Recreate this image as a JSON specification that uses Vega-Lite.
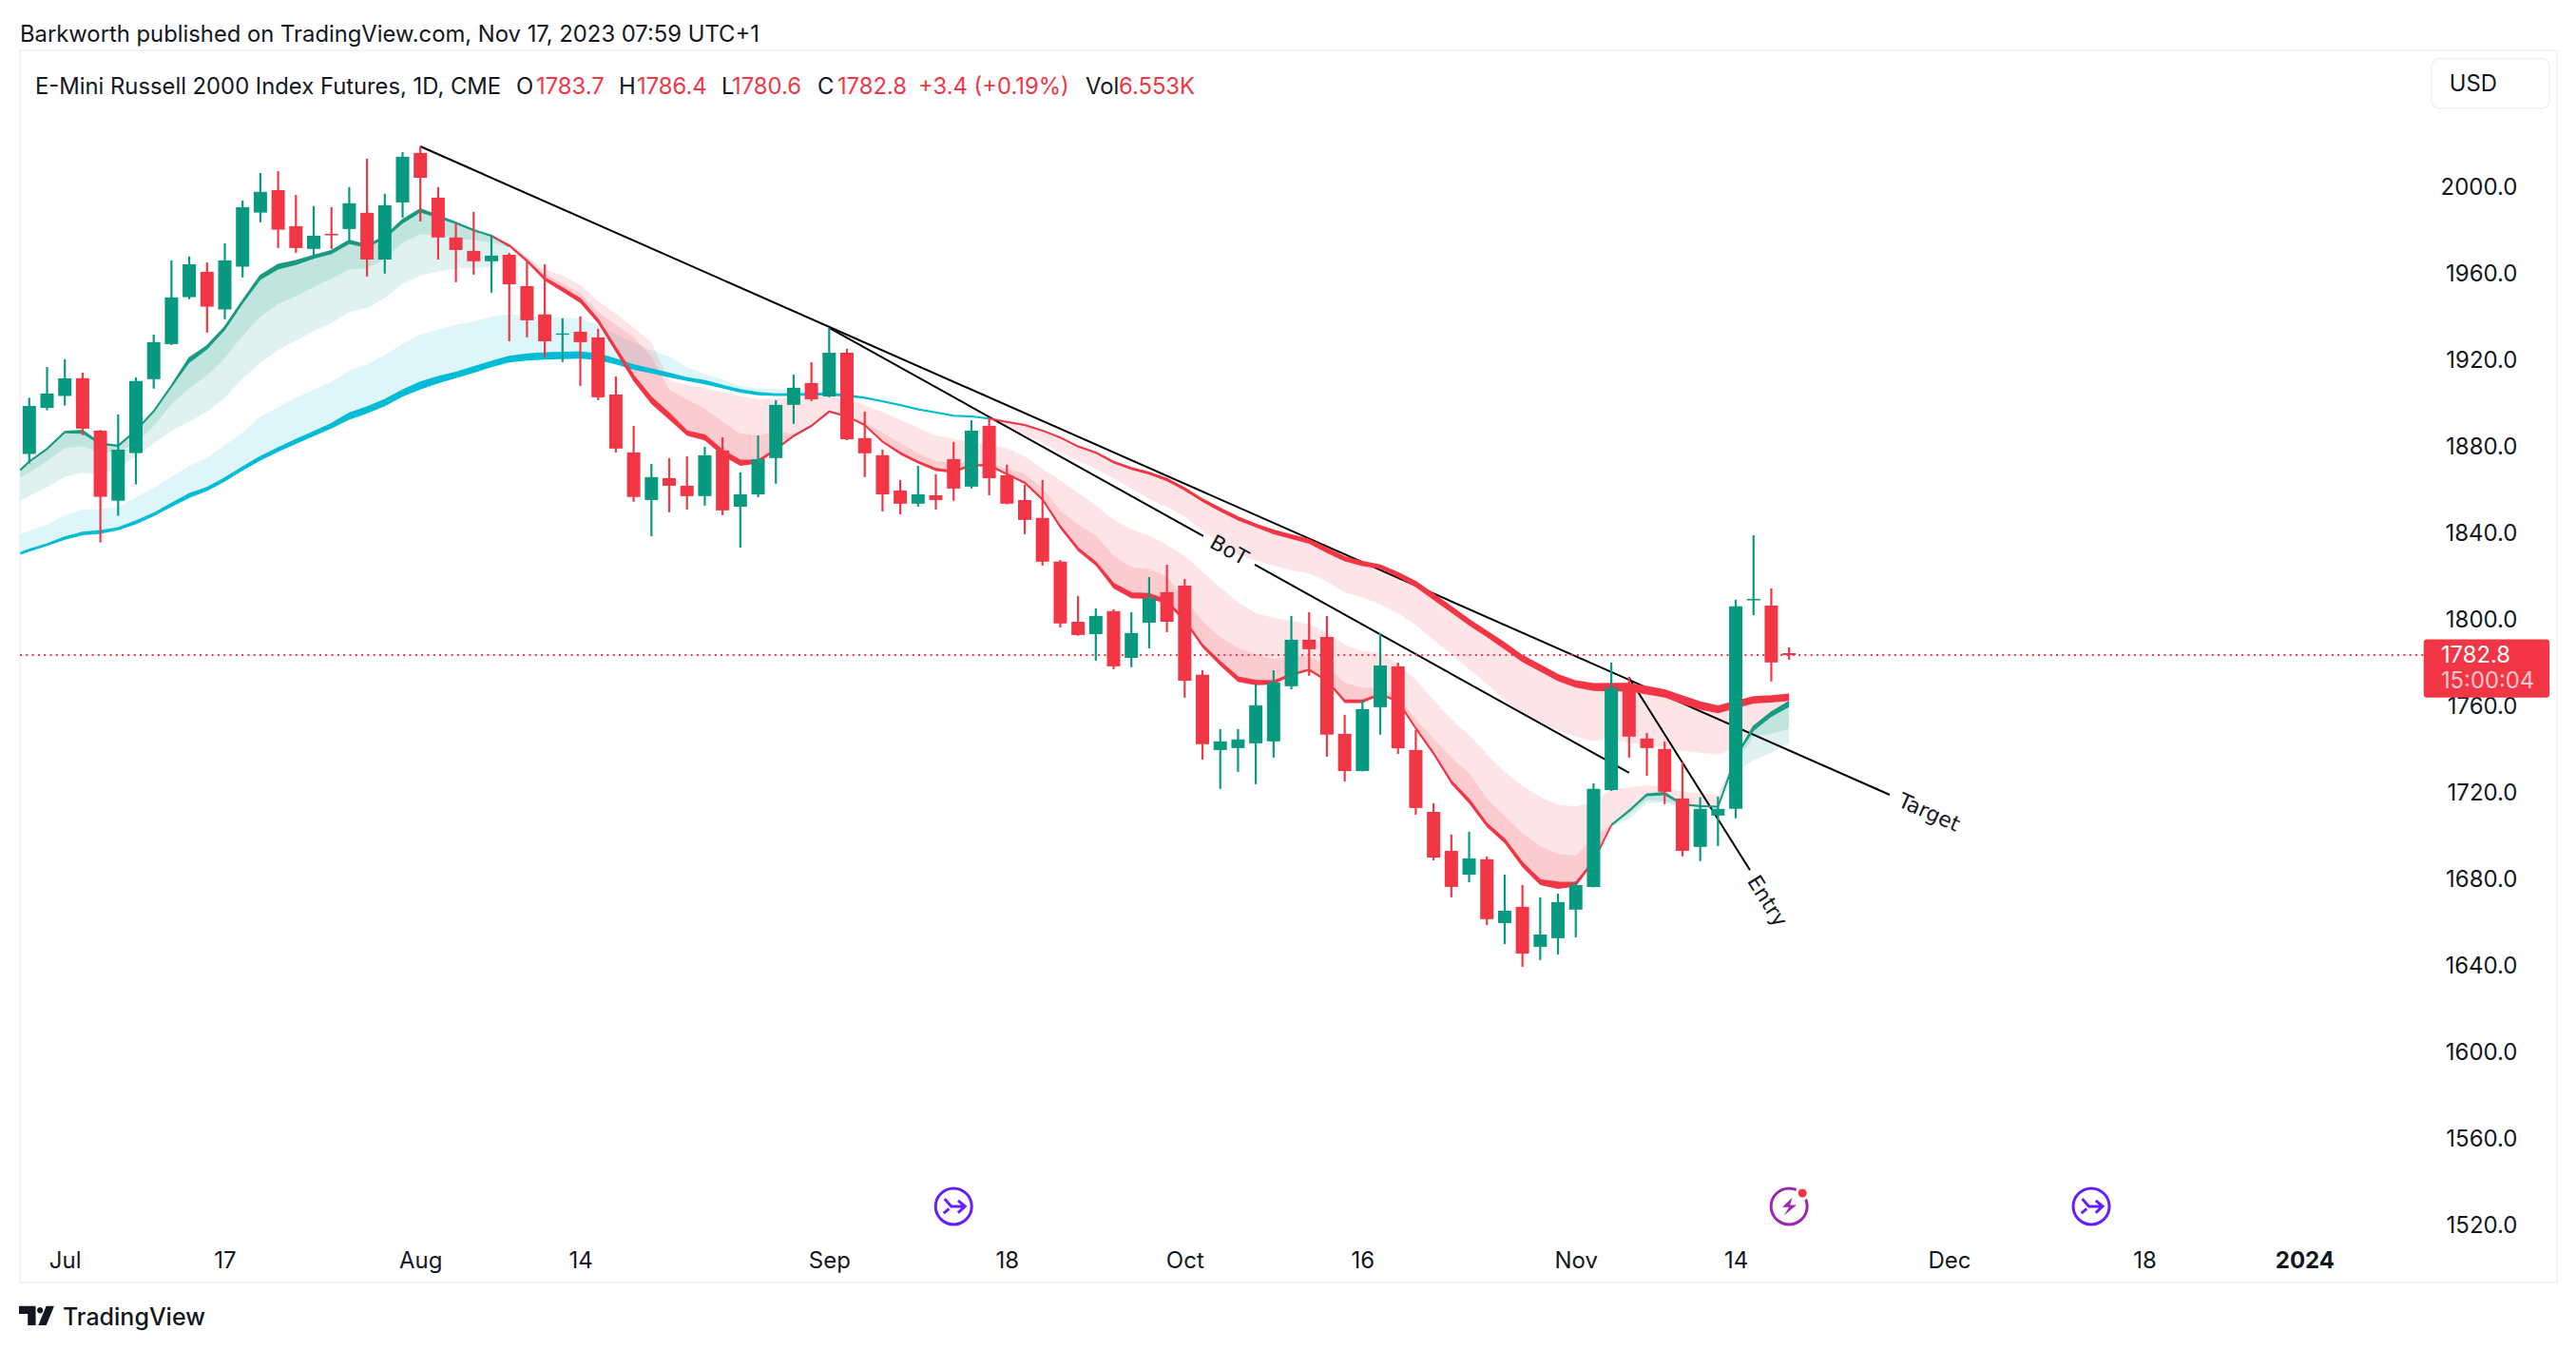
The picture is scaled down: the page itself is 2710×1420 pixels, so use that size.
{
"$schema":"https://vega.github.io/schema/vega-lite/v6.json",
"width":2669,"height":1296,
"autosize":"none",
"padding":{"left":21,"top":53,"right":20,"bottom":71},
"background":"white",
"view":{"stroke":"#F0F3FA","strokeWidth":2},
"config":{"text":{"font":"Inter"},"axis":{"labelFont":"Inter","labelColor":"#131722","labelFontSize":24}},
"datasets":{
"candles":[
{"bar":0,"open":1875.8,"high":1901.8,"low":1871.4,"close":1898.0},
{"bar":1,"open":1897.1,"high":1916.0,"low":1896.0,"close":1903.7},
{"bar":2,"open":1902.6,"high":1919.6,"low":1898.2,"close":1910.8},
{"bar":3,"open":1910.8,"high":1913.4,"low":1884.5,"close":1887.5},
{"bar":4,"open":1886.6,"high":1886.9,"low":1834.9,"close":1856.0},
{"bar":5,"open":1854.2,"high":1894.1,"low":1847.2,"close":1877.8},
{"bar":6,"open":1876.2,"high":1911.2,"low":1861.7,"close":1909.5},
{"bar":7,"open":1910.4,"high":1931.0,"low":1906.0,"close":1927.5},
{"bar":8,"open":1926.6,"high":1965.3,"low":1926.2,"close":1948.2},
{"bar":9,"open":1948.3,"high":1967.1,"low":1947.3,"close":1963.5},
{"bar":10,"open":1960.0,"high":1964.4,"low":1931.9,"close":1943.9},
{"bar":11,"open":1942.6,"high":1973.2,"low":1938.1,"close":1965.3},
{"bar":12,"open":1962.4,"high":1993.0,"low":1957.4,"close":1989.9},
{"bar":13,"open":1987.4,"high":2005.7,"low":1982.9,"close":1997.0},
{"bar":14,"open":1997.8,"high":2006.6,"low":1971.0,"close":1979.5},
{"bar":15,"open":1981.1,"high":1995.6,"low":1968.8,"close":1971.0},
{"bar":16,"open":1970.6,"high":1990.4,"low":1967.4,"close":1976.7},
{"bar":17,"open":1977.6,"high":1989.9,"low":1970.6,"close":1976.9},
{"bar":18,"open":1979.8,"high":1999.2,"low":1973.7,"close":1991.7},
{"bar":19,"open":1987.3,"high":2012.3,"low":1957.8,"close":1965.7},
{"bar":20,"open":1965.7,"high":1996.1,"low":1959.2,"close":1990.8},
{"bar":21,"open":1992.1,"high":2015.4,"low":1985.1,"close":2013.2},
{"bar":22,"open":2015.0,"high":2018.1,"low":1983.3,"close":2003.5},
{"bar":23,"open":1994.3,"high":1999.2,"low":1965.7,"close":1975.9},
{"bar":24,"open":1975.9,"high":1982.7,"low":1955.2,"close":1970.1},
{"bar":25,"open":1969.7,"high":1987.7,"low":1958.7,"close":1964.9},
{"bar":26,"open":1964.9,"high":1976.7,"low":1950.4,"close":1967.5},
{"bar":27,"open":1967.9,"high":1968.8,"low":1927.9,"close":1954.3},
{"bar":28,"open":1953.4,"high":1964.9,"low":1929.7,"close":1937.6},
{"bar":29,"open":1940.3,"high":1963.5,"low":1920.6,"close":1927.9},
{"bar":30,"open":1930.9,"high":1938.5,"low":1918.3,"close":1931.5},
{"bar":31,"open":1932.3,"high":1939.4,"low":1907.3,"close":1927.5},
{"bar":32,"open":1929.7,"high":1933.7,"low":1900.7,"close":1902.0},
{"bar":33,"open":1903.3,"high":1911.7,"low":1876.5,"close":1878.3},
{"bar":34,"open":1876.5,"high":1888.8,"low":1853.7,"close":1855.9},
{"bar":35,"open":1854.5,"high":1871.2,"low":1837.8,"close":1865.1},
{"bar":36,"open":1864.6,"high":1873.9,"low":1848.8,"close":1861.1},
{"bar":37,"open":1861.1,"high":1874.7,"low":1850.1,"close":1856.3},
{"bar":38,"open":1856.3,"high":1879.1,"low":1851.9,"close":1875.2},
{"bar":39,"open":1877.4,"high":1883.5,"low":1847.5,"close":1849.7},
{"bar":40,"open":1851.4,"high":1867.3,"low":1832.5,"close":1857.1},
{"bar":41,"open":1857.1,"high":1884.4,"low":1855.8,"close":1873.4},
{"bar":42,"open":1873.9,"high":1900.7,"low":1862.0,"close":1898.5},
{"bar":43,"open":1898.5,"high":1912.5,"low":1889.7,"close":1906.4},
{"bar":44,"open":1908.6,"high":1918.2,"low":1900.2,"close":1901.1},
{"bar":45,"open":1902.4,"high":1934.1,"low":1902.0,"close":1922.6},
{"bar":46,"open":1922.6,"high":1924.4,"low":1882.2,"close":1882.6},
{"bar":47,"open":1883.1,"high":1895.4,"low":1865.1,"close":1876.1},
{"bar":48,"open":1875.2,"high":1877.8,"low":1849.2,"close":1857.1},
{"bar":49,"open":1858.9,"high":1863.7,"low":1847.9,"close":1852.8},
{"bar":50,"open":1852.8,"high":1870.3,"low":1851.4,"close":1857.1},
{"bar":51,"open":1856.7,"high":1866.4,"low":1850.1,"close":1854.5},
{"bar":52,"open":1873.4,"high":1881.3,"low":1854.1,"close":1859.8},
{"bar":53,"open":1860.7,"high":1891.4,"low":1859.8,"close":1886.6},
{"bar":54,"open":1888.8,"high":1892.8,"low":1856.7,"close":1864.6},
{"bar":55,"open":1865.9,"high":1870.8,"low":1852.5,"close":1852.8},
{"bar":56,"open":1854.5,"high":1861.5,"low":1838.7,"close":1845.3},
{"bar":57,"open":1846.2,"high":1863.7,"low":1824.2,"close":1826.0},
{"bar":58,"open":1826.0,"high":1826.8,"low":1795.6,"close":1797.4},
{"bar":59,"open":1798.2,"high":1810.1,"low":1791.7,"close":1792.1},
{"bar":60,"open":1792.5,"high":1804.4,"low":1780.2,"close":1800.9},
{"bar":61,"open":1803.1,"high":1804.0,"low":1776.3,"close":1777.6},
{"bar":62,"open":1781.5,"high":1802.6,"low":1777.2,"close":1793.0},
{"bar":63,"open":1797.8,"high":1818.9,"low":1785.9,"close":1809.2},
{"bar":64,"open":1811.9,"high":1824.6,"low":1793.4,"close":1798.2},
{"bar":65,"open":1814.9,"high":1818.0,"low":1763.1,"close":1771.0},
{"bar":66,"open":1773.7,"high":1775.8,"low":1734.5,"close":1741.6},
{"bar":67,"open":1738.9,"high":1748.6,"low":1720.9,"close":1742.9},
{"bar":68,"open":1739.8,"high":1748.6,"low":1728.8,"close":1743.8},
{"bar":69,"open":1742.0,"high":1769.2,"low":1723.1,"close":1759.6},
{"bar":70,"open":1742.9,"high":1775.8,"low":1735.4,"close":1770.1},
{"bar":71,"open":1768.4,"high":1800.9,"low":1767.0,"close":1789.9},
{"bar":72,"open":1789.9,"high":1802.6,"low":1773.2,"close":1785.5},
{"bar":73,"open":1791.2,"high":1800.9,"low":1735.8,"close":1746.0},
{"bar":74,"open":1746.4,"high":1755.2,"low":1724.4,"close":1729.2},
{"bar":75,"open":1729.2,"high":1762.2,"low":1729.0,"close":1757.8},
{"bar":76,"open":1758.7,"high":1793.0,"low":1746.0,"close":1778.0},
{"bar":77,"open":1777.6,"high":1779.3,"low":1737.1,"close":1739.8},
{"bar":78,"open":1738.9,"high":1748.1,"low":1709.0,"close":1712.1},
{"bar":79,"open":1710.3,"high":1714.3,"low":1687.9,"close":1689.2},
{"bar":80,"open":1692.3,"high":1699.8,"low":1670.8,"close":1675.6},
{"bar":81,"open":1681.3,"high":1701.1,"low":1677.8,"close":1688.8},
{"bar":82,"open":1688.4,"high":1689.7,"low":1658.0,"close":1660.7},
{"bar":83,"open":1658.9,"high":1681.3,"low":1649.2,"close":1664.6},
{"bar":84,"open":1666.4,"high":1676.5,"low":1638.7,"close":1644.8},
{"bar":85,"open":1647.9,"high":1670.8,"low":1641.8,"close":1653.6},
{"bar":86,"open":1651.9,"high":1672.5,"low":1644.4,"close":1668.6},
{"bar":87,"open":1665.1,"high":1678.2,"low":1652.3,"close":1676.5},
{"bar":88,"open":1675.6,"high":1723.5,"low":1675.4,"close":1720.9},
{"bar":89,"open":1720.4,"high":1779.3,"low":1720.0,"close":1767.6},
{"bar":90,"open":1767.0,"high":1772.8,"low":1735.4,"close":1745.1},
{"bar":91,"open":1744.2,"high":1746.8,"low":1727.0,"close":1739.8},
{"bar":92,"open":1739.4,"high":1742.9,"low":1713.9,"close":1719.6},
{"bar":93,"open":1716.5,"high":1733.2,"low":1689.7,"close":1692.3},
{"bar":94,"open":1694.1,"high":1717.0,"low":1687.5,"close":1711.7},
{"bar":95,"open":1708.6,"high":1717.4,"low":1694.5,"close":1711.7},
{"bar":96,"open":1711.7,"high":1808.4,"low":1707.3,"close":1805.3},
{"bar":97,"open":1808.1,"high":1838.2,"low":1801.3,"close":1808.8},
{"bar":98,"open":1805.7,"high":1813.6,"low":1770.6,"close":1779.4},
{"bar":99,"open":1783.7,"high":1786.4,"low":1780.6,"close":1782.8}
],
"fastGreen":[
{"run":1,"bar":-0.5,"hi":1868.4,"lo":1867.9,"edge":1864.8,"outer":1853.9},
{"run":1,"bar":0,"hi":1872.3,"lo":1871.9,"edge":1867.1,"outer":1856.4},
{"run":1,"bar":1,"hi":1878.2,"lo":1877.7,"edge":1872.5,"outer":1860.4},
{"run":1,"bar":2,"hi":1886.0,"lo":1885.4,"edge":1878.4,"outer":1865.2},
{"run":1,"bar":3,"hi":1886.6,"lo":1885.1,"edge":1879.4,"outer":1867.1},
{"run":1,"bar":4,"hi":1880.6,"lo":1880.0,"edge":1876.5,"outer":1866.2},
{"run":1,"bar":5,"hi":1879.6,"lo":1879.2,"edge":1876.9,"outer":1868.9},
{"run":1,"bar":6,"hi":1886.7,"lo":1886.2,"edge":1880.6,"outer":1874.7},
{"run":1,"bar":7,"hi":1895.6,"lo":1894.9,"edge":1888.6,"outer":1880.6},
{"run":1,"bar":8,"hi":1907.3,"lo":1906.6,"edge":1898.9,"outer":1886.5},
{"run":1,"bar":9,"hi":1920.1,"lo":1917.9,"edge":1906.2,"outer":1890.8},
{"run":1,"bar":10,"hi":1925.7,"lo":1924.0,"edge":1912.1,"outer":1895.2},
{"run":1,"bar":11,"hi":1934.4,"lo":1932.9,"edge":1920.2,"outer":1901.8},
{"run":1,"bar":12,"hi":1946.5,"lo":1945.1,"edge":1930.4,"outer":1910.6},
{"run":1,"bar":13,"hi":1958.2,"lo":1956.2,"edge":1939.2,"outer":1918.0},
{"run":1,"bar":14,"hi":1963.3,"lo":1961.1,"edge":1945.1,"outer":1923.8},
{"run":1,"bar":15,"hi":1965.0,"lo":1963.2,"edge":1948.7,"outer":1928.2},
{"run":1,"bar":16,"hi":1967.5,"lo":1966.0,"edge":1953.1,"outer":1932.6},
{"run":1,"bar":17,"hi":1969.7,"lo":1968.2,"edge":1956.8,"outer":1936.3},
{"run":1,"bar":18,"hi":1974.5,"lo":1972.8,"edge":1961.2,"outer":1941.4},
{"run":1,"bar":19,"hi":1972.3,"lo":1971.1,"edge":1961.6,"outer":1943.3},
{"run":1,"bar":20,"hi":1976.3,"lo":1975.4,"edge":1965.9,"outer":1948.0},
{"run":1,"bar":21,"hi":1984.0,"lo":1982.3,"edge":1973.6,"outer":1954.6},
{"run":1,"bar":22,"hi":1988.9,"lo":1987.4,"edge":1977.3,"outer":1958.2},
{"run":1,"bar":23,"hi":1985.9,"lo":1984.8,"edge":1976.9,"outer":1960.2},
{"run":1,"bar":24,"hi":1982.8,"lo":1982.1,"edge":1975.5,"outer":1961.5},
{"run":1,"bar":25,"hi":1979.3,"lo":1978.8,"edge":1974.7,"outer":1961.9},
{"run":1,"bar":26,"hi":1976.7,"lo":1976.4,"edge":1973.6,"outer":1962.4},
{"run":1,"bar":27,"hi":1971.9,"lo":1971.9,"edge":1971.4,"outer":1968.5},
{"run":2,"bar":43,"hi":1884.1,"lo":1883.8,"edge":1883.8,"outer":1883.8},
{"run":2,"bar":44,"hi":1888.8,"lo":1888.5,"edge":1888.5,"outer":1888.5},
{"run":2,"bar":45,"hi":1895.4,"lo":1895.1,"edge":1895.1,"outer":1895.1},
{"run":2,"bar":46,"hi":1893.2,"lo":1892.9,"edge":1892.9,"outer":1892.9},
{"run":3,"bar":89,"hi":1704.2,"lo":1703.9,"edge":1703.7,"outer":1703.3},
{"run":3,"bar":90,"hi":1710.9,"lo":1710.3,"edge":1709.2,"outer":1707.0},
{"run":3,"bar":91,"hi":1718.4,"lo":1717.5,"edge":1715.8,"outer":1714.3},
{"run":3,"bar":92,"hi":1719.1,"lo":1718.0,"edge":1715.3,"outer":1714.7},
{"run":3,"bar":93,"hi":1713.9,"lo":1713.3,"edge":1712.8,"outer":1712.1},
{"run":3,"bar":94,"hi":1713.0,"lo":1712.6,"edge":1712.4,"outer":1711.8},
{"run":3,"bar":95,"hi":1712.7,"lo":1712.4,"edge":1712.1,"outer":1711.4},
{"run":3,"bar":96,"hi":1735.7,"lo":1735.4,"edge":1732.6,"outer":1728.9},
{"run":3,"bar":97,"hi":1749.8,"lo":1747.7,"edge":1745.1,"outer":1734.1},
{"run":3,"bar":98,"hi":1756.3,"lo":1754.3,"edge":1746.5,"outer":1737.7},
{"run":3,"bar":99,"hi":1761.2,"lo":1758.8,"edge":1748.7,"outer":1742.1}
],
"fastRed":[
{"bar":26,"hi":1976.6,"lo":1976.5,"edge":1976.6,"outer":1976.6},
{"bar":27,"hi":1972.2,"lo":1971.6,"edge":1972.6,"outer":1973.2},
{"bar":28,"hi":1965.3,"lo":1964.4,"edge":1966.3,"outer":1967.0},
{"bar":29,"hi":1957.1,"lo":1955.9,"edge":1959.0,"outer":1961.2},
{"bar":30,"hi":1952.5,"lo":1950.8,"edge":1954.6,"outer":1958.2},
{"bar":31,"hi":1947.4,"lo":1945.6,"edge":1950.2,"outer":1953.9},
{"bar":32,"hi":1937.9,"lo":1936.1,"edge":1941.4,"outer":1946.5},
{"bar":33,"hi":1924.8,"lo":1922.8,"edge":1935.5,"outer":1940.7},
{"bar":34,"hi":1911.9,"lo":1909.3,"edge":1929.7,"outer":1934.1},
{"bar":35,"hi":1901.8,"lo":1898.9,"edge":1920.9,"outer":1927.5},
{"bar":36,"hi":1894.5,"lo":1891.6,"edge":1905.5,"outer":1909.6},
{"bar":37,"hi":1886.3,"lo":1884.3,"edge":1901.1,"outer":1907.7},
{"bar":38,"hi":1884.4,"lo":1882.1,"edge":1896.7,"outer":1906.2},
{"bar":39,"hi":1877.4,"lo":1875.0,"edge":1890.9,"outer":1904.3},
{"bar":40,"hi":1872.7,"lo":1870.3,"edge":1885.3,"outer":1902.6},
{"bar":41,"hi":1872.8,"lo":1871.4,"edge":1884.3,"outer":1901.1},
{"bar":42,"hi":1878.0,"lo":1877.4,"edge":1886.7,"outer":1901.4},
{"bar":43,"hi":1884.2,"lo":1883.7,"edge":1885.0,"outer":1901.8},
{"bar":44,"hi":1888.8,"lo":1888.8,"edge":1888.8,"outer":1902.6},
{"bar":45,"hi":1895.4,"lo":1895.4,"edge":1895.4,"outer":1902.6},
{"bar":46,"hi":1893.2,"lo":1892.9,"edge":1893.8,"outer":1901.8},
{"bar":47,"hi":1889.2,"lo":1888.9,"edge":1890.6,"outer":1898.2},
{"bar":48,"hi":1881.5,"lo":1881.1,"edge":1885.7,"outer":1895.2},
{"bar":49,"hi":1876.3,"lo":1875.5,"edge":1880.6,"outer":1891.6},
{"bar":50,"hi":1872.2,"lo":1871.4,"edge":1876.2,"outer":1887.9},
{"bar":51,"hi":1868.9,"lo":1867.9,"edge":1872.5,"outer":1884.3},
{"bar":52,"hi":1867.8,"lo":1867.0,"edge":1871.8,"outer":1882.8},
{"bar":53,"hi":1870.6,"lo":1870.1,"edge":1871.5,"outer":1881.3},
{"bar":54,"hi":1870.6,"lo":1870.1,"edge":1871.5,"outer":1879.9},
{"bar":55,"hi":1866.5,"lo":1866.0,"edge":1868.9,"outer":1878.4},
{"bar":56,"hi":1862.6,"lo":1862.0,"edge":1866.7,"outer":1874.7},
{"bar":57,"hi":1854.8,"lo":1854.2,"edge":1860.1,"outer":1868.9},
{"bar":58,"hi":1842.3,"lo":1841.3,"edge":1849.8,"outer":1863.7},
{"bar":59,"hi":1832.2,"lo":1830.8,"edge":1843.2,"outer":1857.9},
{"bar":60,"hi":1825.6,"lo":1824.2,"edge":1838.1,"outer":1852.0},
{"bar":61,"hi":1815.7,"lo":1813.6,"edge":1828.6,"outer":1845.4},
{"bar":62,"hi":1811.4,"lo":1809.1,"edge":1823.4,"outer":1841.0},
{"bar":63,"hi":1811.1,"lo":1808.8,"edge":1822.7,"outer":1838.1},
{"bar":64,"hi":1808.1,"lo":1806.6,"edge":1819.0,"outer":1833.7},
{"bar":65,"hi":1799.0,"lo":1798.1,"edge":1808.8,"outer":1828.6},
{"bar":66,"hi":1787.4,"lo":1786.2,"edge":1798.5,"outer":1821.3},
{"bar":67,"hi":1779.6,"lo":1777.9,"edge":1791.2,"outer":1813.9},
{"bar":68,"hi":1772.5,"lo":1770.4,"edge":1786.1,"outer":1807.3},
{"bar":69,"hi":1771.0,"lo":1768.9,"edge":1783.2,"outer":1802.2},
{"bar":70,"hi":1770.7,"lo":1769.2,"edge":1781.0,"outer":1800.0},
{"bar":71,"hi":1773.9,"lo":1773.3,"edge":1782.4,"outer":1798.5},
{"bar":72,"hi":1776.1,"lo":1775.5,"edge":1782.4,"outer":1797.1},
{"bar":73,"hi":1770.9,"lo":1770.5,"edge":1778.0,"outer":1793.4},
{"bar":74,"hi":1761.8,"lo":1760.6,"edge":1770.0,"outer":1787.6},
{"bar":75,"hi":1761.8,"lo":1760.6,"edge":1767.8,"outer":1784.6},
{"bar":76,"hi":1764.8,"lo":1764.3,"edge":1767.8,"outer":1783.9},
{"bar":77,"hi":1761.4,"lo":1761.0,"edge":1763.4,"outer":1778.8},
{"bar":78,"hi":1749.0,"lo":1748.4,"edge":1753.1,"outer":1771.4},
{"bar":79,"hi":1737.4,"lo":1736.6,"edge":1744.3,"outer":1761.9},
{"bar":80,"hi":1724.4,"lo":1723.2,"edge":1735.5,"outer":1753.1},
{"bar":81,"hi":1715.9,"lo":1714.1,"edge":1728.2,"outer":1745.8},
{"bar":82,"hi":1704.8,"lo":1703.3,"edge":1716.5,"outer":1737.0},
{"bar":83,"hi":1697.6,"lo":1695.8,"edge":1708.4,"outer":1728.9},
{"bar":84,"hi":1686.7,"lo":1684.7,"edge":1700.4,"outer":1722.3},
{"bar":85,"hi":1678.8,"lo":1676.5,"edge":1694.5,"outer":1717.2},
{"bar":86,"hi":1677.7,"lo":1674.7,"edge":1690.8,"outer":1713.6},
{"bar":87,"hi":1677.5,"lo":1675.8,"edge":1690.1,"outer":1712.8},
{"bar":88,"hi":1687.6,"lo":1686.7,"edge":1698.9,"outer":1715.0},
{"bar":89,"hi":1704.2,"lo":1704.1,"edge":1704.2,"outer":1720.6},
{"bar":90,"hi":1710.9,"lo":1710.9,"edge":1710.9,"outer":1721.6},
{"bar":91,"hi":1718.4,"lo":1718.4,"edge":1718.4,"outer":1722.6},
{"bar":92,"hi":1719.1,"lo":1719.1,"edge":1719.1,"outer":1721.9},
{"bar":93,"hi":1713.9,"lo":1713.9,"edge":1713.9,"outer":1719.4},
{"bar":94,"hi":1713.0,"lo":1713.0,"edge":1713.0,"outer":1719.1},
{"bar":95,"hi":1712.7,"lo":1712.7,"edge":1712.7,"outer":1718.0},
{"bar":96,"hi":1735.7,"lo":1735.7,"edge":1735.7,"outer":1735.7}
],
"slowCyan":[
{"bar":-0.5,"hi":1830.0,"lo":1829.2,"outer":1838.5},
{"bar":0,"hi":1831.5,"lo":1830.6,"outer":1840.3},
{"bar":1,"hi":1834.1,"lo":1833.3,"outer":1843.2},
{"bar":2,"hi":1837.2,"lo":1836.1,"outer":1847.6},
{"bar":3,"hi":1839.4,"lo":1838.2,"outer":1850.1},
{"bar":4,"hi":1840.2,"lo":1838.9,"outer":1850.4},
{"bar":5,"hi":1841.5,"lo":1840.5,"outer":1851.3},
{"bar":6,"hi":1844.6,"lo":1843.3,"outer":1855.7},
{"bar":7,"hi":1848.2,"lo":1847.0,"outer":1860.1},
{"bar":8,"hi":1852.8,"lo":1851.3,"outer":1865.2},
{"bar":9,"hi":1857.3,"lo":1855.5,"outer":1870.3},
{"bar":10,"hi":1860.1,"lo":1858.6,"outer":1874.0},
{"bar":11,"hi":1864.5,"lo":1863.0,"outer":1879.9},
{"bar":12,"hi":1869.6,"lo":1868.1,"outer":1885.7},
{"bar":13,"hi":1874.4,"lo":1872.7,"outer":1893.0},
{"bar":14,"hi":1878.5,"lo":1876.8,"outer":1897.4},
{"bar":15,"hi":1882.3,"lo":1880.4,"outer":1901.8},
{"bar":16,"hi":1886.0,"lo":1884.0,"outer":1905.5},
{"bar":17,"hi":1889.7,"lo":1887.6,"outer":1909.2},
{"bar":18,"hi":1894.5,"lo":1891.6,"outer":1914.3},
{"bar":19,"hi":1897.4,"lo":1894.5,"outer":1917.2},
{"bar":20,"hi":1900.8,"lo":1897.9,"outer":1921.6},
{"bar":21,"hi":1905.2,"lo":1902.3,"outer":1926.7},
{"bar":22,"hi":1908.9,"lo":1905.6,"outer":1931.1},
{"bar":23,"hi":1911.4,"lo":1908.4,"outer":1933.3},
{"bar":24,"hi":1913.4,"lo":1910.8,"outer":1935.5},
{"bar":25,"hi":1915.9,"lo":1913.3,"outer":1937.0},
{"bar":26,"hi":1918.5,"lo":1915.9,"outer":1939.2},
{"bar":27,"hi":1920.7,"lo":1918.1,"outer":1940.4},
{"bar":28,"hi":1921.9,"lo":1919.0,"outer":1939.6},
{"bar":29,"hi":1922.4,"lo":1919.4,"outer":1939.2},
{"bar":30,"hi":1922.6,"lo":1919.7,"outer":1938.8},
{"bar":31,"hi":1922.8,"lo":1919.9,"outer":1938.5},
{"bar":32,"hi":1921.8,"lo":1919.1,"outer":1935.5},
{"bar":33,"hi":1919.6,"lo":1917.2,"outer":1931.1},
{"bar":34,"hi":1916.8,"lo":1914.7,"outer":1927.5},
{"bar":35,"hi":1914.9,"lo":1913.1,"outer":1923.8},
{"bar":36,"hi":1913.0,"lo":1911.2,"outer":1920.9},
{"bar":37,"hi":1910.9,"lo":1909.5,"outer":1915.8},
{"bar":38,"hi":1909.5,"lo":1908.0,"outer":1912.8},
{"bar":39,"hi":1907.3,"lo":1906.1,"outer":1910.2},
{"bar":40,"hi":1905.4,"lo":1904.2,"outer":1907.3},
{"bar":41,"hi":1904.0,"lo":1902.9,"outer":1906.2},
{"bar":42,"hi":1903.4,"lo":1902.6,"outer":1905.8},
{"bar":43,"hi":1903.4,"lo":1902.6,"outer":1905.5},
{"bar":44,"hi":1903.6,"lo":1902.7,"outer":1905.2},
{"bar":45,"hi":1903.7,"lo":1902.9,"outer":1904.8},
{"bar":46,"hi":1902.9,"lo":1902.2,"outer":1904.0},
{"bar":47,"hi":1901.8,"lo":1901.3,"outer":1902.1},
{"bar":48,"hi":1900.2,"lo":1899.7,"outer":1900.4},
{"bar":49,"hi":1898.4,"lo":1898.0,"outer":1898.5},
{"bar":50,"hi":1896.5,"lo":1896.0,"outer":1896.7},
{"bar":51,"hi":1895.0,"lo":1894.7,"outer":1895.1},
{"bar":52,"hi":1893.5,"lo":1893.2,"outer":1893.8},
{"bar":53,"hi":1893.2,"lo":1892.9,"outer":1893.2},
{"bar":54,"hi":1892.2,"lo":1891.9,"outer":1892.3}
],
"slowRed":[
{"bar":54,"hi":1892.2,"lo":1891.9,"edge":1891.6},
{"bar":55,"hi":1890.6,"lo":1890.3,"edge":1888.6},
{"bar":56,"hi":1889.2,"lo":1888.9,"edge":1884.7},
{"bar":57,"hi":1886.6,"lo":1886.3,"edge":1880.9},
{"bar":58,"hi":1883.4,"lo":1883.1,"edge":1876.5},
{"bar":59,"hi":1879.3,"lo":1878.9,"edge":1872.5},
{"bar":60,"hi":1876.5,"lo":1875.9,"edge":1868.9},
{"bar":61,"hi":1872.2,"lo":1871.4,"edge":1864.5},
{"bar":62,"hi":1869.3,"lo":1868.4,"edge":1859.8},
{"bar":63,"hi":1867.1,"lo":1866.2,"edge":1855.0},
{"bar":64,"hi":1864.3,"lo":1863.2,"edge":1851.3},
{"bar":65,"hi":1859.9,"lo":1858.8,"edge":1846.9},
{"bar":66,"hi":1854.8,"lo":1853.6,"edge":1840.3},
{"bar":67,"hi":1850.6,"lo":1849.1,"edge":1834.4},
{"bar":68,"hi":1846.5,"lo":1845.0,"edge":1829.3},
{"bar":69,"hi":1843.2,"lo":1841.8,"edge":1826.4},
{"bar":70,"hi":1840.4,"lo":1838.7,"edge":1824.2},
{"bar":71,"hi":1838.2,"lo":1836.5,"edge":1822.0},
{"bar":72,"hi":1836.1,"lo":1834.3,"edge":1820.5},
{"bar":73,"hi":1832.1,"lo":1830.0,"edge":1816.9},
{"bar":74,"hi":1828.1,"lo":1826.1,"edge":1811.7},
{"bar":75,"hi":1825.9,"lo":1823.9,"edge":1809.5},
{"bar":76,"hi":1824.3,"lo":1822.6,"edge":1806.2},
{"bar":77,"hi":1820.8,"lo":1818.8,"edge":1802.2},
{"bar":78,"hi":1816.6,"lo":1814.2,"edge":1796.8},
{"bar":79,"hi":1810.9,"lo":1808.2,"edge":1789.8},
{"bar":80,"hi":1805.0,"lo":1802.4,"edge":1783.2},
{"bar":81,"hi":1799.1,"lo":1796.5,"edge":1776.3},
{"bar":82,"hi":1793.7,"lo":1791.1,"edge":1769.5},
{"bar":83,"hi":1788.3,"lo":1785.4,"edge":1761.9},
{"bar":84,"hi":1782.4,"lo":1779.5,"edge":1756.1},
{"bar":85,"hi":1778.0,"lo":1775.1,"edge":1751.7},
{"bar":86,"hi":1773.6,"lo":1770.7,"edge":1748.0},
{"bar":87,"hi":1770.7,"lo":1767.8,"edge":1745.1},
{"bar":88,"hi":1769.4,"lo":1766.2,"edge":1742.9},
{"bar":89,"hi":1769.5,"lo":1766.0,"edge":1744.3},
{"bar":90,"hi":1769.5,"lo":1766.0,"edge":1742.1},
{"bar":91,"hi":1768.1,"lo":1764.6,"edge":1741.1},
{"bar":92,"hi":1766.6,"lo":1763.1,"edge":1739.9},
{"bar":93,"hi":1763.7,"lo":1760.2,"edge":1738.5},
{"bar":94,"hi":1761.0,"lo":1757.5,"edge":1737.7},
{"bar":95,"hi":1759.1,"lo":1755.9,"edge":1736.7},
{"bar":96,"hi":1761.3,"lo":1758.1,"edge":1739.9},
{"bar":97,"hi":1763.4,"lo":1760.4,"edge":1749.8},
{"bar":98,"hi":1763.8,"lo":1760.9,"edge":1756.3},
{"bar":99,"hi":1764.6,"lo":1761.6,"edge":1761.2}
],
"trendlines":[
{"bar":22,"bar2":104.66,"price":2018.0,"price2":1718.2},
{"bar":45,"bar2":66.05,"price":1934.1,"price2":1837.8},
{"bar":68.94,"bar2":90,"price":1824.6,"price2":1728.4},
{"bar":90,"bar2":96.8,"price":1772.3,"price2":1683.4}
],
"lastPrice":[{"bar":-0.524,"bar2":134.7,"price":1782.8,"price2":1782.8}],
"tag":[{"bar":134.7,"bar2":141.78,"price":1790.1,"price2":1763.1}],
"usdBox":[{"bar":135.15,"bar2":141.78,"price":2058.5,"price2":2035.6}],
"texts":[
{"bar":-0.524,"price":2069.5,"label":"Barkworth published on TradingView.com, Nov 17, 2023 07:59 UTC+1","tone":"dark"},
{"bar":0.33,"price":2045.3,"label":"E-Mini Russell 2000 Index Futures, 1D, CME","tone":"dark"},
{"bar":27.39,"price":2045.3,"label":"O","tone":"dark"},
{"bar":28.51,"price":2045.3,"label":"1783.7","tone":"red"},
{"bar":33.17,"price":2045.3,"label":"H","tone":"dark"},
{"bar":34.18,"price":2045.3,"label":"1786.4","tone":"red"},
{"bar":38.94,"price":2045.3,"label":"L","tone":"dark"},
{"bar":39.53,"price":2045.3,"label":"1780.6","tone":"red"},
{"bar":44.34,"price":2045.3,"label":"C","tone":"dark"},
{"bar":45.46,"price":2045.3,"label":"1782.8","tone":"red"},
{"bar":50.01,"price":2045.3,"label":"+3.4 (+0.19%)","tone":"red"},
{"bar":59.42,"price":2045.3,"label":"Vol","tone":"dark"},
{"bar":61.29,"price":2045.3,"label":"6.553K","tone":"red"},
{"bar":136.15,"price":2046.5,"label":"USD","tone":"dark"},
{"bar":135.67,"price":1782.4,"label":"1782.8","tone":"white"},
{"bar":135.67,"price":1770.5,"label":"15:00:04","tone":"faded"}
],
"brand":[{"bar":1.88,"price":1476.5,"label":"TradingView"}],
"logo":[{"bar":0.41,"price":1477.4}],
"target":[{"bar":106.87,"price":1709.9,"label":"Target"}],
"bot":[{"bar":67.5,"price":1831.2,"label":"BoT"}],
"entry":[{"bar":97.76,"price":1669.0,"label":"Entry"}],
"splits":[{"bar":52,"price":1527.9},{"bar":116,"price":1527.9}],
"earnings":[{"bar":99,"price":1527.9}],
"alert":[{"bar":99.75,"price":1534.0}]
},
"encoding":{
"x":{"field":"bar","type":"quantitative","scale":{"domain":[-0.524,142.2],"nice":false,"padding":0},
"axis":{"title":null,"orient":"bottom","offset":-35,"grid":false,"domain":false,"ticks":false,"labelPadding":0,"labelOverlap":false,"labelBound":false,"labelFlush":false,
"values":[2,11,22,31,45,55,65,75,87,96,108,119,128],
"labelExpr":"{'2':'Jul','11':'17','22':'Aug','31':'14','45':'Sep','55':'18','65':'Oct','75':'16','87':'Nov','96':'14','108':'Dec','119':'18','128':'2024'}[datum.value]",
"labelFontWeight":{"condition":{"test":"datum.value==128","value":700},"value":400}}}
},
"layer":[
{"data":{"name":"slowCyan"},"mark":{"type":"area","color":"#00BCD4","opacity":0.13},"encoding":{"y":{"field":"hi","type":"quantitative","scale":{"domain":[1492.7,2062.4],"nice":false}},"y2":{"field":"outer"}}},
{"data":{"name":"fastGreen"},"mark":{"type":"area","color":"#089981","opacity":0.13},"encoding":{"detail":{"field":"run"},"y":{"field":"edge","type":"quantitative","scale":{"domain":[1492.7,2062.4],"nice":false}},"y2":{"field":"outer"}}},
{"data":{"name":"fastGreen"},"mark":{"type":"area","color":"#089981","opacity":0.26},"encoding":{"detail":{"field":"run"},"y":{"field":"hi","type":"quantitative","scale":{"domain":[1492.7,2062.4],"nice":false}},"y2":{"field":"edge"}}},
{"data":{"name":"slowRed"},"mark":{"type":"area","color":"#F23645","opacity":0.13},"encoding":{"y":{"field":"lo","type":"quantitative","scale":{"domain":[1492.7,2062.4],"nice":false}},"y2":{"field":"edge"}}},
{"data":{"name":"fastRed"},"mark":{"type":"area","color":"#F23645","opacity":0.13},"encoding":{"y":{"field":"edge","type":"quantitative","scale":{"domain":[1492.7,2062.4],"nice":false}},"y2":{"field":"outer"}}},
{"data":{"name":"fastRed"},"mark":{"type":"area","color":"#F23645","opacity":0.26},"encoding":{"y":{"field":"hi","type":"quantitative","scale":{"domain":[1492.7,2062.4],"nice":false}},"y2":{"field":"edge"}}},
{"data":{"name":"trendlines"},"mark":{"type":"rule","color":"#000000","strokeWidth":2},"encoding":{"x2":{"field":"bar2"},"y":{"field":"price","type":"quantitative","scale":{"domain":[1492.7,2062.4],"nice":false}},"y2":{"field":"price2"}}},
{"data":{"name":"slowCyan"},"mark":{"type":"area","color":"#00BCD4","opacity":1,"line":{"color":"#00BCD4","strokeWidth":2}},"encoding":{"y":{"field":"hi","type":"quantitative","scale":{"domain":[1492.7,2062.4],"nice":false}},"y2":{"field":"lo"}}},
{"data":{"name":"fastGreen"},"mark":{"type":"area","color":"#1A9A80","opacity":1,"line":{"color":"#1A9A80","strokeWidth":2}},"encoding":{"detail":{"field":"run"},"y":{"field":"hi","type":"quantitative","scale":{"domain":[1492.7,2062.4],"nice":false}},"y2":{"field":"lo"}}},
{"data":{"name":"fastRed"},"transform":[{"filter":"datum.bar<=89"}],"mark":{"type":"area","color":"#F23645","opacity":1,"line":{"color":"#F23645","strokeWidth":2}},"encoding":{"y":{"field":"hi","type":"quantitative","scale":{"domain":[1492.7,2062.4],"nice":false}},"y2":{"field":"lo"}}},
{"data":{"name":"slowRed"},"mark":{"type":"area","color":"#F23645","opacity":1,"line":{"color":"#F23645","strokeWidth":2}},"encoding":{"y":{"field":"hi","type":"quantitative","scale":{"domain":[1492.7,2062.4],"nice":false}},"y2":{"field":"lo"}}},
{"data":{"name":"lastPrice"},"mark":{"type":"rule","color":"#F23645","strokeWidth":2,"strokeDash":[2,4.3]},"encoding":{"x2":{"field":"bar2"},"y":{"field":"price","type":"quantitative","scale":{"domain":[1492.7,2062.4],"nice":false}}}},
{"data":{"name":"candles"},"mark":{"type":"rule","strokeWidth":2.2},"encoding":{"y":{"field":"low","type":"quantitative","scale":{"domain":[1492.7,2062.4],"nice":false},
"axis":{"title":null,"orient":"right","offset":-42,"grid":false,"domain":false,"ticks":false,"labelPadding":0,"labelOffset":2.5,"labelAlign":"right","labelOverlap":false,"labelBound":false,"labelFlush":false,"format":".1f","values":[1520,1560,1600,1640,1680,1720,1760,1800,1840,1880,1920,1960,2000]}},"y2":{"field":"high"},"color":{"condition":{"test":"datum.close>=datum.open","value":"#089981"},"value":"#F23645"}}},
{"data":{"name":"candles"},"mark":{"type":"bar","size":14,"orient":"vertical"},"encoding":{"y":{"field":"open","type":"quantitative","scale":{"domain":[1492.7,2062.4],"nice":false}},"y2":{"field":"close"},"color":{"condition":{"test":"datum.close>=datum.open","value":"#089981"},"value":"#F23645"}}},
{"data":{"name":"tag"},"mark":{"type":"rect","color":"#F23645","cornerRadius":3},"encoding":{"x2":{"field":"bar2"},"y":{"field":"price","type":"quantitative","scale":{"domain":[1492.7,2062.4],"nice":false}},"y2":{"field":"price2"}}},
{"data":{"name":"usdBox"},"mark":{"type":"rect","fill":"white","stroke":"#F0F3FA","strokeWidth":2,"cornerRadius":8},"encoding":{"x2":{"field":"bar2"},"y":{"field":"price","type":"quantitative","scale":{"domain":[1492.7,2062.4],"nice":false}},"y2":{"field":"price2"}}},
{"data":{"name":"texts"},"mark":{"type":"text","align":"left","baseline":"middle","font":"Inter","fontSize":23.8},"encoding":{"y":{"field":"price","type":"quantitative","scale":{"domain":[1492.7,2062.4],"nice":false}},"text":{"field":"label"},"color":{"field":"tone","type":"nominal","legend":null,"scale":{"domain":["dark","red","white","faded"],"range":["#131722","#F23645","#FFFFFF","#FDC9CE"]}}}},
{"data":{"name":"brand"},"mark":{"type":"text","align":"left","baseline":"middle","font":"Inter","fontSize":25,"fontWeight":500,"color":"#131722"},"encoding":{"y":{"field":"price","type":"quantitative","scale":{"domain":[1492.7,2062.4],"nice":false}},"text":{"field":"label"}}},
{"data":{"name":"logo"},"mark":{"type":"point","filled":true,"color":"#131722","opacity":1,"size":1369,"shape":"M-1,-0.55 H-0.05 V0.55 H-0.5 V-0.1 H-1 Z M0.55,-0.55 H1 L0.55,0.55 H0.1 Z M0.03,-0.3 A0.17,0.17 0 1 0 0.37,-0.3 A0.17,0.17 0 1 0 0.03,-0.3 Z"},"encoding":{"y":{"field":"price","type":"quantitative","scale":{"domain":[1492.7,2062.4],"nice":false}}}},
{"data":{"name":"target"},"mark":{"type":"text","align":"center","baseline":"middle","font":"DejaVu Sans","fontSize":22,"angle":24,"color":"#131722"},"encoding":{"y":{"field":"price","type":"quantitative","scale":{"domain":[1492.7,2062.4],"nice":false}},"text":{"field":"label"}}},
{"data":{"name":"bot"},"mark":{"type":"text","align":"center","baseline":"middle","font":"DejaVu Sans","fontSize":22,"angle":29,"color":"#131722"},"encoding":{"y":{"field":"price","type":"quantitative","scale":{"domain":[1492.7,2062.4],"nice":false}},"text":{"field":"label"}}},
{"data":{"name":"entry"},"mark":{"type":"text","align":"center","baseline":"middle","font":"DejaVu Sans","fontSize":22,"angle":58,"color":"#131722"},"encoding":{"y":{"field":"price","type":"quantitative","scale":{"domain":[1492.7,2062.4],"nice":false}},"text":{"field":"label"}}},
{"data":{"name":"splits"},"mark":{"type":"point","shape":"circle","size":1444,"filled":false,"stroke":"#651FFF","strokeWidth":3,"opacity":1},"encoding":{"y":{"field":"price","type":"quantitative","scale":{"domain":[1492.7,2062.4],"nice":false}}}},
{"data":{"name":"splits"},"mark":{"type":"point","shape":"M-0.5,-0.42 L-0.13,0 L0.63,0 M0.25,-0.32 L0.63,0 L0.25,0.35 M-0.55,0.38 L-0.25,0.13","size":1444,"filled":false,"stroke":"#651FFF","strokeWidth":3,"opacity":1},"encoding":{"y":{"field":"price","type":"quantitative","scale":{"domain":[1492.7,2062.4],"nice":false}}}},
{"data":{"name":"earnings"},"mark":{"type":"point","shape":"circle","size":1444,"filled":false,"stroke":"#9C27B0","strokeWidth":3,"opacity":1},"encoding":{"y":{"field":"price","type":"quantitative","scale":{"domain":[1492.7,2062.4],"nice":false}}}},
{"data":{"name":"earnings"},"mark":{"type":"point","shape":"M0.17,-0.48 L-0.37,0.05 L0,0.05 L-0.28,0.5 L0.42,-0.08 L0.05,-0.08 Z","size":1444,"filled":true,"color":"#9C27B0","opacity":1},"encoding":{"y":{"field":"price","type":"quantitative","scale":{"domain":[1492.7,2062.4],"nice":false}}}},
{"data":{"name":"alert"},"mark":{"type":"point","shape":"circle","size":144,"filled":true,"fill":"#F23645","stroke":"white","strokeWidth":3,"opacity":1},"encoding":{"y":{"field":"price","type":"quantitative","scale":{"domain":[1492.7,2062.4],"nice":false}}}}
]
}
